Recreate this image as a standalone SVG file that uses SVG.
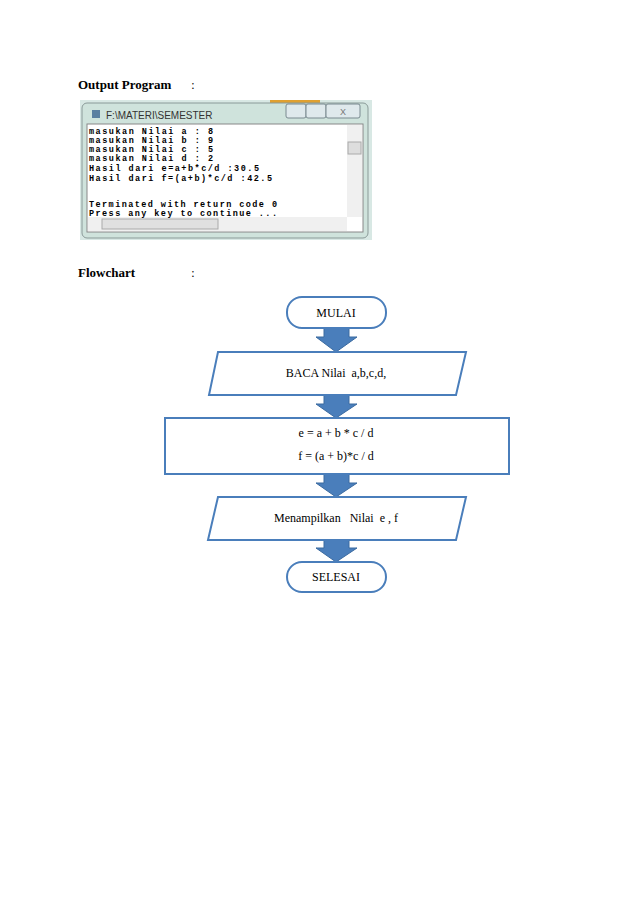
<svg xmlns="http://www.w3.org/2000/svg" width="638" height="902" viewBox="0 0 638 902">
<style>
.h{font-family:"Liberation Serif",serif;font-size:13px;font-weight:bold;fill:#000}
.t{font-family:"Liberation Serif",serif;font-size:12px;fill:#000;text-anchor:middle;white-space:pre}
.c{font-family:"Liberation Mono",monospace;font-size:8.5px;font-weight:bold;fill:#000}
.n{fill:#fff;stroke:#4a7ebb;stroke-width:2}
.a{fill:#4a7ebb;stroke:#3a6aa0;stroke-width:1}
</style>
<rect width="638" height="902" fill="#fff"/>
<text class="h" x="78" y="89">Output  Program</text>
<text class="t" x="193" y="89">:</text>
<g id="console">
<rect x="80" y="100" width="292" height="140" fill="#d8e8e4"/>
<rect x="270" y="100" width="50" height="4" fill="#e0a030"/>
<rect x="82" y="103" width="286" height="135" rx="5" fill="#cfe3dc" stroke="#8a9a98"/>
<rect x="92" y="110" width="8" height="8" fill="#5a7fa0"/>
<text x="106" y="119" font-family="Liberation Sans,sans-serif" font-size="10" fill="#333">F:\MATERI\SEMESTER</text>
<rect x="286" y="104" width="20" height="14" rx="2" fill="#dfe9ec" stroke="#7a8a90"/>
<rect x="306" y="104" width="20" height="14" rx="2" fill="#dfe9ec" stroke="#7a8a90"/>
<rect x="326" y="104" width="34" height="14" rx="2" fill="#dfe9ec" stroke="#7a8a90"/>
<text x="343" y="115" font-family="Liberation Sans,sans-serif" font-size="9" fill="#777" text-anchor="middle">X</text>
<rect x="87" y="124" width="276" height="108" fill="#fff" stroke="#888"/>
<rect x="347" y="125" width="15" height="92" fill="#f0f0f0"/>
<rect x="348" y="142" width="13" height="12" fill="#ddd" stroke="#aaa"/>
<rect x="88" y="217" width="259" height="14" fill="#f0f0f0"/>
<rect x="102" y="219" width="116" height="10" fill="#e0e0e0" stroke="#aaa"/>
<text class="c" x="89" y="134" textLength="124">masukan Nilai a : 8</text>
<text class="c" x="89" y="143" textLength="124">masukan Nilai b : 9</text>
<text class="c" x="89" y="152" textLength="124">masukan Nilai c : 5</text>
<text class="c" x="89" y="161" textLength="124">masukan Nilai d : 2</text>
<text class="c" x="89" y="171" textLength="170">Hasil dari e=a+b*c/d :30.5</text>
<text class="c" x="89" y="181" textLength="183">Hasil dari f=(a+b)*c/d :42.5</text>
<text class="c" x="89" y="207" textLength="188">Terminated with return code 0</text>
<text class="c" x="89" y="216" textLength="188">Press any key to continue ...</text>
</g>
<text class="h" x="78" y="277">Flowchart</text>
<text class="t" x="193" y="277">:</text>
<g id="connectors">
<polygon class="a" points="324,328 349,328 349,337 357,337 336,352 316,337 324,337"/>
<polygon class="a" points="324,395 349,395 349,404 357,404 336,418 316,404 324,404"/>
<polygon class="a" points="324,474 349,474 349,483 357,483 336,497 316,483 324,483"/>
<polygon class="a" points="324,540 349,540 349,548 357,548 336,562 316,548 324,548"/>
</g>
<g id="mulai"><rect class="n" x="287" y="297" width="99" height="31" rx="15"/><text class="t" x="336" y="317">MULAI</text></g>
<g id="baca"><polygon class="n" points="218,352 466,352 456,395 209,395"/><text class="t" x="336" y="377">BACA Nilai  a,b,c,d,</text></g>
<g id="proses"><rect class="n" x="165" y="418" width="344" height="56"/><text class="t" x="336" y="437">e = a + b * c / d</text><text class="t" x="336" y="460">f = (a + b)*c / d</text></g>
<g id="tampil"><polygon class="n" points="218,497 466,497 456,540 208,540"/><text class="t" x="336" y="522">Menampilkan   Nilai  e , f</text></g>
<g id="selesai"><rect class="n" x="287" y="562" width="99" height="30" rx="15"/><text class="t" x="336" y="581">SELESAI</text></g>
</svg>
